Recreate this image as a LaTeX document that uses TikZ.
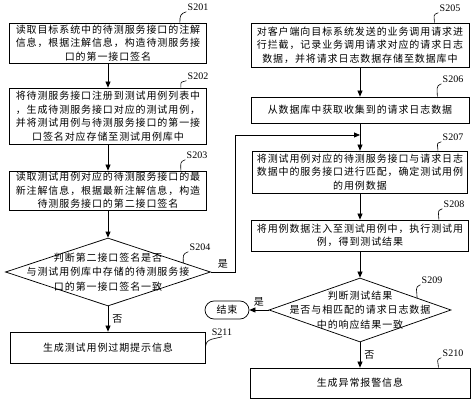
\documentclass[tikz,border=0pt]{standalone}
\usepackage{fontspec}
\setmainfont{Liberation Serif}
\newfontfamily\cjk[LetterSpace=9]{Noto Sans CJK SC}
\usetikzlibrary{arrows.meta,shapes.geometric}
\tikzset{
  stepbox/.style={draw, rectangle, inner sep=0pt, align=center,
    font=\cjk\fontsize{10}{13.5}\selectfont},
  decide/.style={draw, diamond, inner sep=0pt},
  endbox/.style={draw, rectangle, rounded corners=9pt, inner sep=0pt,
    minimum width=44pt, minimum height=18pt, font=\cjk\fontsize{10}{10}\selectfont},
  note/.style={inner sep=0pt, align=center, font=\cjk\fontsize{10}{14.5}\selectfont},
  flow/.style={-{Triangle[length=6pt,width=5pt]}},
  steptag/.style={inner sep=1pt, font=\fontsize{10}{10}\selectfont},
  tagline/.style={line width=0.6pt}
}
\newcommand\tagcurve[2]{\draw[tagline] (#1) .. controls +(0,-7) and +(-6,2) .. (#2);}

\begin{document}
\begin{tikzpicture}[x=1pt, y=-1pt, line width=0.75pt]
\useasboundingbox (0,0) rectangle (474,403);

% left column
\node[stepbox, minimum width=197pt, minimum height=40pt] (s201) at (108,43)
  {读取目标系统中的待测服务接口的注解\\信息，根据注解信息，构造待测服务接\\口的第一接口签名};
\node[stepbox, minimum width=197pt, minimum height=56pt] (s202) at (108,116)
  {将待测服务接口注册到测试用例列表中\\，生成待测服务接口对应的测试用例，\\并将测试用例与待测服务接口的第一接\\口签名对应存储至测试用例库中};
\node[stepbox, minimum width=197pt, minimum height=39pt] (s203) at (108,190.5)
  {读取测试用例对应的待测服务接口的最\\新注解信息，根据最新注解信息，构造\\待测服务接口的第二接口签名};
\node[decide, minimum width=205pt, minimum height=68pt] (s204) at (108,272) {};
\node[note] (t204) at (s204) {判断第二接口签名是否\\与测试用例库中存储的待测服务接\\口的第一接口签名一致};
\node[stepbox, minimum width=195pt, minimum height=31pt] (s211) at (108,347.5)
  {生成测试用例过期提示信息};

% right column
\node[stepbox, minimum width=218pt, minimum height=44pt] (s205) at (360,45)
  {对客户端向目标系统发送的业务调用请求进\\行拦截，记录业务调用请求对应的请求日志\\数据，并将请求日志数据存储至数据库中};
\node[stepbox, minimum width=218pt, minimum height=26pt] (s206) at (360,110)
  {从数据库中获取收集到的请求日志数据};
\node[stepbox, minimum width=215pt, minimum height=42pt] (s207) at (360,172)
  {将测试用例对应的待测服务接口与请求日志\\数据中的服务接口进行匹配，确定测试用例\\的用例数据};
\node[stepbox, minimum width=217pt, minimum height=31pt] (s208) at (360,235.5)
  {将用例数据注入至测试用例中，执行测试用\\例，得到测试结果};
\node[decide, minimum width=182pt, minimum height=64pt] (s209) at (360,310) {};
\node[note] (t209) at (s209) {判断测试结果\\是否与相匹配的请求日志数据\\中的响应结果一致};
\node[endbox] (end) at (227,310) {结束};
\node[stepbox, minimum width=220pt, minimum height=30pt] (s210) at (360,383)
  {生成异常报警信息};

% step tags
\node[steptag] (l201) at (198,7) {S201};
\node[steptag] (l202) at (198,76) {S202};
\node[steptag] (l203) at (197,155) {S203};
\node[steptag] (l204) at (200,247) {S204};
\node[steptag] (l211) at (222,332) {S211};
\node[steptag] (l205) at (450,8) {S205};
\node[steptag] (l206) at (453,79) {S206};
\node[steptag] (l207) at (453,137) {S207};
\node[steptag] (l208) at (454,204) {S208};
\node[steptag] (l209) at (432,280) {S209};
\node[steptag] (l210) at (453,353) {S210};
\tagcurve{[xshift=-27pt]s201.north east}{l201.south west}
\tagcurve{[xshift=-26pt]s202.north east}{l202.south west}
\tagcurve{[xshift=-26pt]s203.north east}{l203.south west}
\tagcurve{s204.7}{l204.south west}
\tagcurve{[yshift=2pt]s211.east}{l211.south}
\tagcurve{[xshift=-35pt]s205.north east}{l205.south west}
\tagcurve{[xshift=-32pt]s206.north east}{l206.south west}
\tagcurve{[xshift=-30pt]s207.north east}{l207.south west}
\tagcurve{[xshift=-30pt]s208.north east}{l208.south west}
\tagcurve{s209.12}{l209.south west}
\tagcurve{[xshift=-32pt]s210.north east}{l210.south west}

% connectors
\coordinate (join) at (360,135);
\draw[flow] (s201) -- (s202);
\draw[flow] (s202) -- (s203);
\draw[flow] (s203) -- (s204);
\draw[flow] (s204) -- node[note, right=4pt] {否} (s211);
\draw[flow] (s204.east) -- node[note, above=3pt] {是} ++(24,0) |- (join);
\draw[flow] (s205) -- (s206);
\draw[flow] (s206) -- (s207);
\draw[flow] (s207) -- (s208);
\draw[flow] (s208) -- (s209);
\draw[flow] (s209) -- node[note, above=3pt] {是} (end);
\draw[flow] (s209) -- node[note, right=4pt] {否} (s210);
\end{tikzpicture}
\end{document}
